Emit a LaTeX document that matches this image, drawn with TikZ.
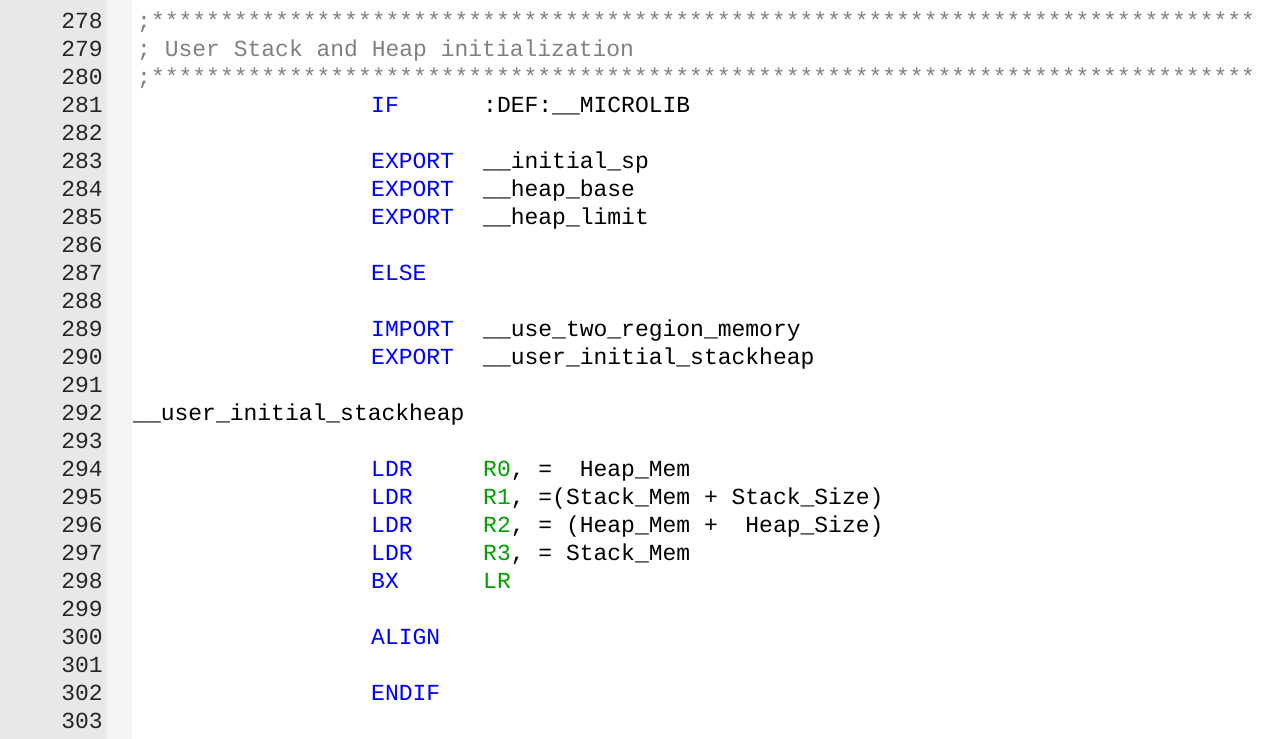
\documentclass[tikz,border=0pt]{standalone}
\usepackage{fontspec}
\setmonofont{Liberation Mono}
\definecolor{gut}{RGB}{232,232,232}
\definecolor{gut2}{RGB}{244,244,244}
\definecolor{kw}{RGB}{0,0,255}
\definecolor{rg}{RGB}{0,160,0}
\definecolor{cm}{RGB}{128,128,128}
\begin{document}
\begin{tikzpicture}[x=1pt,y=1pt,
  code/.style={anchor=base west,inner sep=0pt,font=\ttfamily\fontsize{23}{23}\selectfont},
  num/.style={anchor=base east,inner sep=0pt,font=\ttfamily\fontsize{23}{23}\selectfont,text=black!85}]
\useasboundingbox (0,0) rectangle (1270,-739);
\fill[gut] (0,0) rectangle (107,-739);
\fill[gut2] (107,0) rectangle (132,-739);
\foreach \n in {277,...,304}{
  \pgfmathtruncatemacro\yy{-(28+(\n-278)*28)}
  \node[num] (n\n) at (103,\yy) {\n};
}
\def\Y#1{-(28+(#1-278)*28)}
\node[code,text=cm] (c278) at (137,{\Y{278}}) {;********************************************************************************};
\node[code,text=cm] (c279) at (137,{\Y{279}}) {;\ User\ Stack\ and\ Heap\ initialization};
\node[code,text=cm] (c280) at (137,{\Y{280}}) {;********************************************************************************};
\node[code,text=kw] (m281) at (371,{\Y{281}}) {IF};
\node[code] (o281) at (483,{\Y{281}}) {:DEF:\_\_MICROLIB};
\node[code,text=kw] (m283) at (371,{\Y{283}}) {EXPORT};
\node[code] (o283) at (483,{\Y{283}}) {\_\_initial\_sp};
\node[code,text=kw] (m284) at (371,{\Y{284}}) {EXPORT};
\node[code] (o284) at (483,{\Y{284}}) {\_\_heap\_base};
\node[code,text=kw] (m285) at (371,{\Y{285}}) {EXPORT};
\node[code] (o285) at (483,{\Y{285}}) {\_\_heap\_limit};
\node[code,text=kw] (m287) at (371,{\Y{287}}) {ELSE};
\node[code,text=kw] (m289) at (371,{\Y{289}}) {IMPORT};
\node[code] (o289) at (483,{\Y{289}}) {\_\_use\_two\_region\_memory};
\node[code,text=kw] (m290) at (371,{\Y{290}}) {EXPORT};
\node[code] (o290) at (483,{\Y{290}}) {\_\_user\_initial\_stackheap};
\node[code] (l292) at (133,{\Y{292}}) {\_\_user\_initial\_stackheap};
\node[code,text=kw] (m294) at (371,{\Y{294}}) {LDR};
\node[code] (o294) at (483,{\Y{294}}) {\textcolor{rg}{R0},\ =\ \ Heap\_Mem};
\node[code,text=kw] (m295) at (371,{\Y{295}}) {LDR};
\node[code] (o295) at (483,{\Y{295}}) {\textcolor{rg}{R1},\ =(Stack\_Mem\ +\ Stack\_Size)};
\node[code,text=kw] (m296) at (371,{\Y{296}}) {LDR};
\node[code] (o296) at (483,{\Y{296}}) {\textcolor{rg}{R2},\ =\ (Heap\_Mem\ +\ \ Heap\_Size)};
\node[code,text=kw] (m297) at (371,{\Y{297}}) {LDR};
\node[code] (o297) at (483,{\Y{297}}) {\textcolor{rg}{R3},\ =\ Stack\_Mem};
\node[code,text=kw] (m298) at (371,{\Y{298}}) {BX};
\node[code,text=rg] (o298) at (483,{\Y{298}}) {LR};
\node[code,text=kw] (m300) at (371,{\Y{300}}) {ALIGN};
\node[code,text=kw] (m302) at (371,{\Y{302}}) {ENDIF};
\node[code,text=kw] (m304) at (371,{\Y{304}}) {END};
\end{tikzpicture}
\end{document}
